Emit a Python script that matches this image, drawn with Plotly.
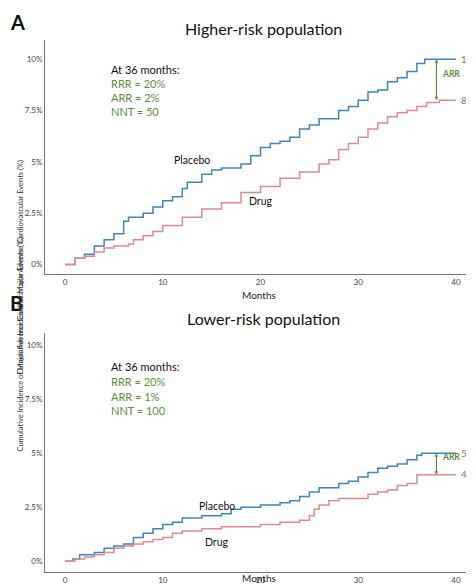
import plotly.graph_objects as go
from plotly.subplots import make_subplots

# Higher-risk population (months, cumulative %)
a_placebo_x = [0, 1, 2, 3, 4, 5, 6, 6.5, 8, 9, 10, 11, 12, 12.5, 14, 15, 16, 18, 19, 20, 21, 22, 23, 24, 25, 26, 28, 29, 30, 31, 32, 33, 34, 35, 36, 36.8, 40]
a_placebo_y = [0, 0.3, 0.5, 0.9, 1.2, 1.5, 2.1, 2.3, 2.5, 2.8, 3.1, 3.3, 3.7, 4.0, 4.4, 4.6, 4.7, 4.9, 5.3, 5.7, 5.9, 6.0, 6.2, 6.6, 6.8, 7.1, 7.5, 7.7, 8.0, 8.4, 8.5, 8.9, 9.1, 9.4, 9.8, 10, 10]
a_drug_x = [0, 1, 2, 3, 4, 5, 6.5, 7, 8, 9, 10, 12, 14, 16, 18, 20, 22, 24, 26, 27, 28, 29, 30, 31, 32, 33, 34, 35, 36, 37, 38.3, 40]
a_drug_y = [0, 0.3, 0.4, 0.6, 0.8, 0.9, 1.0, 1.2, 1.4, 1.6, 1.9, 2.3, 2.7, 3.0, 3.5, 3.8, 4.2, 4.5, 4.9, 5.1, 5.6, 5.9, 6.2, 6.6, 6.9, 7.2, 7.4, 7.5, 7.7, 7.9, 8.0, 8.0]

# Lower-risk population
b_placebo_x = [0, 0.8, 1.5, 3, 4, 5, 6, 7, 8, 9, 10, 11, 12, 14, 16, 17, 18, 20, 22, 23, 24, 25, 26, 28, 29, 30, 31, 32, 33, 34, 35, 36, 36.5, 40]
b_placebo_y = [0, 0.1, 0.3, 0.4, 0.6, 0.7, 0.8, 1.1, 1.3, 1.5, 1.7, 1.8, 2.0, 2.1, 2.2, 2.4, 2.5, 2.6, 2.7, 2.8, 3.0, 3.2, 3.4, 3.6, 3.7, 3.9, 4.1, 4.3, 4.4, 4.5, 4.7, 4.9, 5.0, 5.0]
b_drug_x = [0, 1, 2, 3, 4, 5, 6, 7, 8, 9, 10, 11, 12, 14, 16, 18, 20, 22, 24, 25, 25.5, 26, 27, 28, 30, 31, 32, 33, 34, 35, 36, 40]
b_drug_y = [0, 0.1, 0.2, 0.3, 0.4, 0.6, 0.7, 0.8, 0.9, 1.0, 1.1, 1.3, 1.4, 1.5, 1.6, 1.6, 1.7, 1.8, 1.9, 2.1, 2.4, 2.6, 2.8, 2.9, 2.9, 3.1, 3.2, 3.3, 3.5, 3.6, 4.0, 4.0]

y_ticks = [0, 2.5, 5, 7.5, 10]
y_labels = ["0%", "2.5%", "5%", "7.5%", "10%"]
x_ticks = [0, 10, 20, 30, 40]

BLUE = "#3f86b8"
PINK = "#dd8b90"
GREEN = "#5b8f3a"
FONT = "Lato"

fig = make_subplots(rows=2, cols=1)

for row, (px_, py_, dx_, dy_) in enumerate([(a_placebo_x, a_placebo_y, a_drug_x, a_drug_y),
                                            (b_placebo_x, b_placebo_y, b_drug_x, b_drug_y)], start=1):
    fig.add_trace(go.Scatter(x=px_, y=py_, mode="lines", line=dict(color=BLUE, width=1.5, shape="hv")), row=row, col=1)
    fig.add_trace(go.Scatter(x=dx_, y=dy_, mode="lines", line=dict(color=PINK, width=1.5, shape="hv")), row=row, col=1)

axis_style = dict(showgrid=False, zeroline=False, showline=True, linecolor="#777", linewidth=1,
                  tickfont=dict(size=8, color="#444", family=FONT), ticks="", automargin=False)
fig.update_xaxes(axis_style, tickvals=x_ticks, range=[-2.05, 42.05], domain=[37 / 474, 468 / 474])
fig.update_yaxes(axis_style, tickvals=y_ticks, ticktext=y_labels)
fig.update_yaxes(range=[-0.47, 10.93], domain=[0.546, 0.945], row=1, col=1)
fig.update_yaxes(range=[-0.5, 10.55], domain=[0.0375, 0.445], row=2, col=1)

ann = []
def txt(x, y, s, xref, yref, size=11, color="#111", **kw):
    ann.append(dict(x=x, y=y, xref=xref, yref=yref, text=s, showarrow=False,
                    font=dict(size=size, color=color, family=FONT), **kw))

# panel labels and titles
txt(0, 1, "<b>A</b>", "paper", "paper", size=20, xanchor="left", yanchor="top")
txt(0, 0.52, "<b>B</b>", "paper", "paper", size=20, xanchor="left", yanchor="top")
txt(0.54, 0.985, "Higher-risk population", "paper", "paper", size=16)
txt(0.54, 0.45, "Lower-risk population", "paper", "paper", size=16, yanchor="bottom")
ytitle = "Cumulative Incidence of Major Adverse Cardiovascular Events (%)"
txt(0.013, 0.745, ytitle, "paper", "paper", size=7.5, color="#333", textangle=-90)
txt(0.013, 0.24, ytitle, "paper", "paper", size=7.5, color="#333", textangle=-90)
txt(0.53, 1 - 287 / 586, "Months", "paper", "paper", size=10, color="#222")
txt(0.53, 1 - 578 / 586, "Months", "paper", "paper", size=10, color="#222")

for xr, yr, top, nums, pl, dr, pv, dv in [
        ("x", "y", 9.5, ("20%", "2%", "50"), (13, 5.1), (20, 3.1), "10%", "8%"),
        ("x2", "y2", 9.0, ("20%", "1%", "100"), (15.5, 2.55), (15.5, 0.9), "5%", "4%")]:
    txt(4.5, top, "At 36 months:", xr, yr, size=11, xanchor="left")
    for i, (k, v) in enumerate(zip(["RRR", "ARR", "NNT"], nums)):
        txt(4.5, top - 0.68 * (i + 1), f"{k} = {v}", xr, yr, size=11, color=GREEN, xanchor="left")
    txt(pl[0], pl[1], "Placebo", xr, yr, size=10.5)
    txt(dr[0], dr[1], "Drug", xr, yr, size=10.5)
    hi, lo = float(pv[:-1]), float(dv[:-1])
    txt(40.3, hi, pv, xr, yr, size=9.5, color=GREEN, xanchor="left")
    txt(40.3, lo, dv, xr, yr, size=9.5, color=GREEN, xanchor="left")
    txt(38.4, (hi + lo) / 2 + 0.3, "<b>ARR</b>", xr, yr, size=8.5, color=GREEN, xanchor="left")
    for a, b in [(hi, lo), (lo, hi)]:
        ann.append(dict(x=38, y=b, ax=38, ay=a, xref=xr, yref=yr, axref=xr, ayref=yr, text="",
                        showarrow=True, arrowhead=2, arrowsize=0.7, arrowwidth=1, arrowcolor=GREEN))

fig.update_layout(width=474, height=586, margin=dict(l=0, r=0, t=0, b=0), showlegend=False,
                  plot_bgcolor="white", paper_bgcolor="white", annotations=ann)

fig.write_html("out.html")
